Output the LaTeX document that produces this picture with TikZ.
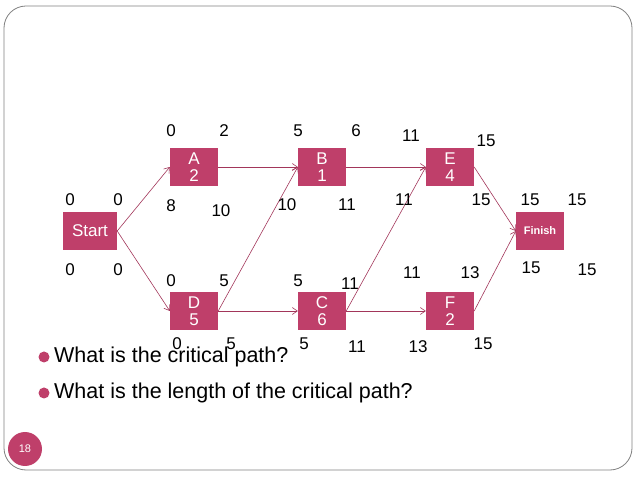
\documentclass[tikz,border=0pt]{standalone}
\usepackage{fontspec}
\setmainfont{Liberation Sans}
\usetikzlibrary{arrows.meta}
\definecolor{mag}{HTML}{BF3F6A}
\begin{document}
\begin{tikzpicture}[x=1pt,y=-1pt,
 box/.style={fill=mag,minimum width=48pt,minimum height=38pt,inner sep=0pt,text=white,font=\fontsize{17}{15}\selectfont,align=center},
 num/.style={font=\fontsize{17}{17}\selectfont,inner sep=0pt},
 con/.style={draw=mag!85!black,line width=0.6pt,-{Straight Barb[length=5pt,width=7pt]}}]
\useasboundingbox (0,0) rectangle (638,478);
\draw[gray,line width=0.8pt,rounded corners=22pt] (4,6) rectangle (632,470);
\node[box,minimum width=54pt] (S) at (90,231) {Start};
\node[box] (A) at (194,167) {A\\[2pt]2};
\node[box] (B) at (322,167) {B\\[2pt]1};
\node[box] (E) at (450,167) {E\\[2pt]4};
\node[box] (D) at (194,311) {D\\[2pt]5};
\node[box] (C) at (322,311) {C\\[2pt]6};
\node[box] (F) at (450,311) {F\\[2pt]2};
\node[box,font=\bfseries\fontsize{11}{11}\selectfont] (Fi) at (540,231) {Finish};
\draw[con] (S.east) -- (A.west);
\draw[con] (S.east) -- (D.west);
\draw[con] (A.east) -- (B.west);
\draw[con] (D.east) -- (B.west);
\draw[con] (D.east) -- (C.west);
\draw[con] (B.east) -- (E.west);
\draw[con] (C.east) -- (E.west);
\draw[con] (C.east) -- (F.west);
\draw[con] (E.east) -- (Fi.west);
\draw[con] (F.east) -- (Fi.west);
\foreach \t/\x/\y [count=\i] in {0/70/200,0/118/200,0/70/270,0/118/270,
 0/171/131,2/224/131,8/171/206,10/221/211,
 5/298/131,6/356/131,10/287/205,11/347/205,
 11/411/136,15/486/141,11/404/200,15/481/200,
 15/530/200,15/577/200,15/531/268,15/587/270,
 0/171/281,5/224/281,0/177/344,5/231/344,
 5/298/281,11/350/284,5/304/344,11/357/347,
 11/412/273,13/470/273,13/418/347,15/483/344}
 \node[num] (n\i) at (\x,\y) {\t};
\fill[mag] (44,357) circle (5.5pt);
\node[anchor=west,inner sep=0pt,font=\fontsize{21.5}{21.5}\selectfont] (q1) at (54,357) {What is the critical path?};
\fill[mag] (44,393) circle (5.5pt);
\node[anchor=west,inner sep=0pt,font=\fontsize{21.5}{21.5}\selectfont] (q2) at (54,393) {What is the length of the critical path?};
\node[circle,fill=mag,minimum size=34pt,inner sep=0pt,text=white,font=\fontsize{11}{11}\selectfont] (pg) at (25,449) {18};
\end{tikzpicture}
\end{document}
